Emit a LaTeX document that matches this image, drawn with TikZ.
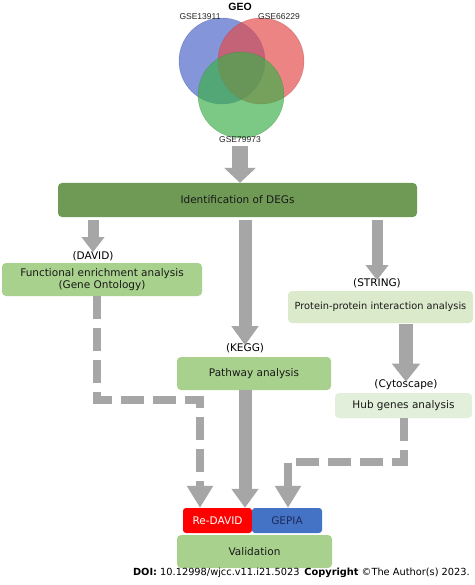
\documentclass[tikz,border=0pt]{standalone}
\usepackage{fontspec}
\setmainfont{DejaVu Sans}
\newfontfamily\arialf{Liberation Sans}
\usetikzlibrary{arrows.meta}
\definecolor{agray}{HTML}{A6A6A6}
\definecolor{dkgreen}{HTML}{6F9A55}
\definecolor{mdgreen}{HTML}{A9D18E}
\definecolor{ltgreen}{HTML}{DCEACC}
\definecolor{vlgreen}{HTML}{E2EFDA}
\definecolor{gblue}{HTML}{4472C4}
\definecolor{vblue}{HTML}{4A63C8}
\definecolor{vred}{HTML}{E34B4B}
\definecolor{vgreen}{HTML}{3DB04A}
\definecolor{navy}{HTML}{1F2A5C}
\tikzset{
  box/.style={rounded corners=4pt, inner sep=0pt, align=center, font=\fontsize{10.5}{12.5}\selectfont, text=black!90},
  lbl/.style={inner sep=0pt, font=\fontsize{10.5}{12}\selectfont},
  vlbl/.style={inner sep=0pt, font=\arialf\fontsize{8.5}{9}\selectfont, text=black!85},
  garrow/.style={draw=agray, line width=#1, -{Triangle[width=22pt,length=15pt]}},
  garrow/.default=11pt,
  dasharrow/.style={draw=agray, line width=8pt, dash pattern=on 23pt off 9pt, -{Triangle[width=25pt,length=22pt]}},
  vcirc/.style={fill=#1, fill opacity=0.68, draw=#1!80!black, draw opacity=0.5, line width=0.4pt}
}
\begin{document}
\begin{tikzpicture}[x=1pt,y=-1pt]
\useasboundingbox (0,0) rectangle (474,585);
\fill[white] (0,0) rectangle (474,585);
% Venn
\path[vcirc=vblue] (222,61) circle (43);
\path[vcirc=vred] (261,61) circle (43);
\path[vcirc=vgreen] (241,95) circle (43);
\node[inner sep=0pt, font=\arialf\bfseries\fontsize{10.5}{11}\selectfont] (geo) at (240,7) {GEO};
\node[vlbl] (g1) at (200,17) {GSE13911};
\node[vlbl] (g2) at (279,17) {GSE66229};
\node[vlbl] (g3) at (240,140) {GSE79973};
% boxes
\node[box, fill=dkgreen, minimum width=359pt, minimum height=34pt] (ident) at (237.5,200) {Identification of DEGs};
\node[box, fill=mdgreen, minimum width=200pt, minimum height=33pt] (func) at (102,279.5) {Functional enrichment analysis\\(Gene Ontology)};
\node[box, fill=ltgreen, minimum width=185pt, minimum height=32pt, font=\fontsize{9.8}{12}\selectfont] (ppi) at (380.5,307) {Protein-protein interaction analysis};
\node[box, fill=mdgreen, minimum width=154pt, minimum height=33pt] (path) at (254,373.5) {Pathway analysis};
\node[box, fill=vlgreen, minimum width=137pt, minimum height=25pt] (hub) at (403.5,405.5) {Hub genes analysis};
\node[box, fill=mdgreen, minimum width=155pt, minimum height=33pt] (valid) at (254.5,551.5) {Validation};
\node[box, rounded corners=3pt, fill=red, text=white, minimum width=69pt, minimum height=25pt] (redavid) at (217.5,520.5) {Re-DAVID};
\node[box, rounded corners=3pt, fill=gblue, text=navy, minimum width=70pt, minimum height=25pt] (gepia) at (287,520.5) {GEPIA};
% labels
\node[lbl] (david) at (93,256) {(DAVID)};
\node[lbl] (string) at (377,283) {(STRING)};
\node[lbl] (kegg) at (245,348) {(KEGG)};
\node[lbl] (cyto) at (406,385) {(Cytoscape)};
% connectors
\draw[draw=agray, line width=16pt, -{Triangle[width=31pt,length=15pt]}, shorten <=3pt] (g3.south) -- (g3.south |- ident.north);
\draw[garrow, shorten <=3pt] (ident.south -| david) -- ([yshift=-1pt]david.north);
\draw[garrow, shorten <=3pt] (ident.south -| string) -- ([yshift=-2pt]string.north);
\draw[garrow=13pt, -{Triangle[width=26pt,length=19pt]}, shorten <=3pt] (ident.south -| kegg) -- ([yshift=-2pt]kegg.north);
\draw[garrow=14pt, -{Triangle[width=27pt,length=18pt]}, shorten <=1pt] (ppi.south -| cyto) -- ([yshift=-2pt]cyto.north);
\draw[garrow=13pt, -{Triangle[width=26pt,length=19pt]}] (path.south -| kegg) -- (redavid.north -| kegg);
\coordinate (c1) at (200,400);
\coordinate (c2) at (288,462);
\draw[dasharrow] ([xshift=-5pt]func.south) |- (c1) -- (c1 |- redavid.north);
\draw[dasharrow] (hub.south) |- (c2) -- (c2 |- gepia.north);
% footer
\node[anchor=east, inner sep=0pt, font=\fontsize{9.8}{11}\selectfont] (foot) at (470,573) {\textbf{DOI:} 10.12998/wjcc.v11.i21.5023\enspace\textbf{Copyright} \textcopyright The Author(s) 2023.};
\end{tikzpicture}
\end{document}
